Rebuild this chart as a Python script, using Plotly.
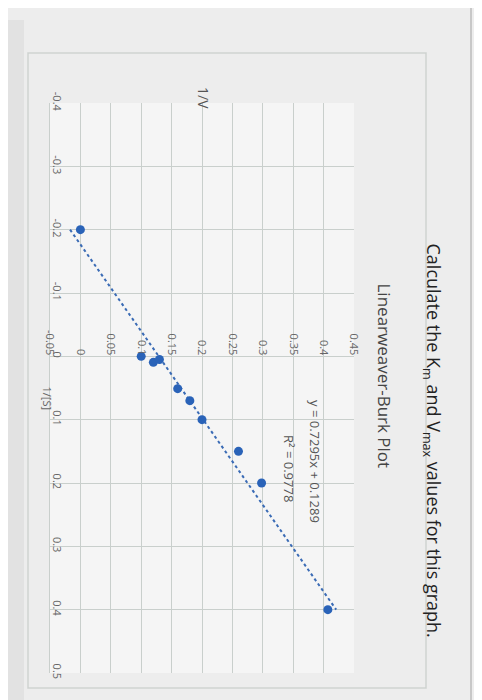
import plotly.graph_objects as go

# Data (1/[S], 1/V) read from the (rotated) photo
inv_S = [-0.2, 0.0, 0.0095, 0.005, 0.051, 0.07, 0.10, 0.15, 0.20, 0.40]
inv_V = [0.0, 0.10, 0.12, 0.13, 0.16, 0.18, 0.20, 0.26, 0.298, 0.407]
slope, intercept = 0.7295, 0.1289
x_ticks = [-0.4, -0.3, -0.2, -0.1, 0, 0.1, 0.2, 0.3, 0.4, 0.5]
y_ticks = [-0.05, 0, 0.05, 0.1, 0.15, 0.2, 0.25, 0.3, 0.35, 0.4, 0.45]

W, H = 482, 700
L, R, T, B = 42, 136, 95, 35
def px(xp): return (xp - L) / (W - L - R)
def py(yp): return (H - B - yp) / (H - T - B)

trend_s = [min(inv_S), max(inv_S)]
trend_v = [slope * s + intercept for s in trend_s]

fig = go.Figure()
fig.add_trace(go.Scatter(x=trend_v, y=trend_s, mode="lines",
                         line=dict(color="#3a6bb5", width=2, dash="dot"), showlegend=False))
fig.add_trace(go.Scatter(x=inv_V, y=inv_S, mode="markers",
                         marker=dict(color="#2a63b8", size=9), showlegend=False))

tickfont = dict(family="Open Sans", size=11, color="#666")
fig.update_layout(
    width=W, height=H, margin=dict(l=L, r=R, t=T, b=B),
    paper_bgcolor="#ededed", plot_bgcolor="#f5f5f5",
    xaxis=dict(range=[-0.05, 0.45], tickvals=y_ticks, ticktext=[f"{v:g}" for v in y_ticks],
               tickangle=90, showgrid=True, gridcolor="#c9cfcc", zeroline=False,
               anchor="free", position=py(349), side="top", showline=False,
               tickfont=tickfont, ticks="", ticklabeloverflow="allow"),
    yaxis=dict(range=[0.5, -0.4], tickvals=x_ticks, ticktext=[f"{v:g}" for v in x_ticks],
               tickangle=90, showgrid=True, gridcolor="#c9cfcc", zeroline=False,
               ticklabelposition="inside", tickfont=tickfont, ticks="",
               ticklabeloverflow="allow",
               showline=True, linecolor="#c9cfcc"),
    showlegend=False,
)

fig.add_shape(type="rect", xref="paper", yref="paper", x0=px(20), x1=px(418), y0=py(680), y1=py(45),
              line=dict(color="#cfd3d1", width=1.5), layer="below")
fig.add_shape(type="line", xref="paper", yref="paper", x0=px(463), x1=px(463), y0=py(700), y1=py(0),
              line=dict(color="#bbbbbb", width=1.5))
fig.add_shape(type="rect", xref="paper", yref="paper", x0=px(0), x1=px(16), y0=py(700), y1=py(12),
              fillcolor="#e2e2e2", line=dict(width=0), layer="below")

def ann(text, x, y, size, color="#333"):
    fig.add_annotation(text=text, xref="paper", yref="paper", x=px(x), y=py(y),
                       showarrow=False, textangle=90, font=dict(family="Open Sans", size=size, color=color))

ann("Calculate the K<sub>m</sub> and V<sub>max</sub> values for this graph.", 440, 233, 18, "#222")
ann("Linearweaver-Burk Plot", 390, 368, 17, "#444")
ann("y = 0.7295x + 0.1289", 318, 453, 13, "#555")
ann("R² = 0.9778", 292, 460, 13, "#555")
ann("1/V", 195, 77, 14, "#555")
ann("1/[S]", 30, 390, 11, "#666")

fig.write_html("out.html")
